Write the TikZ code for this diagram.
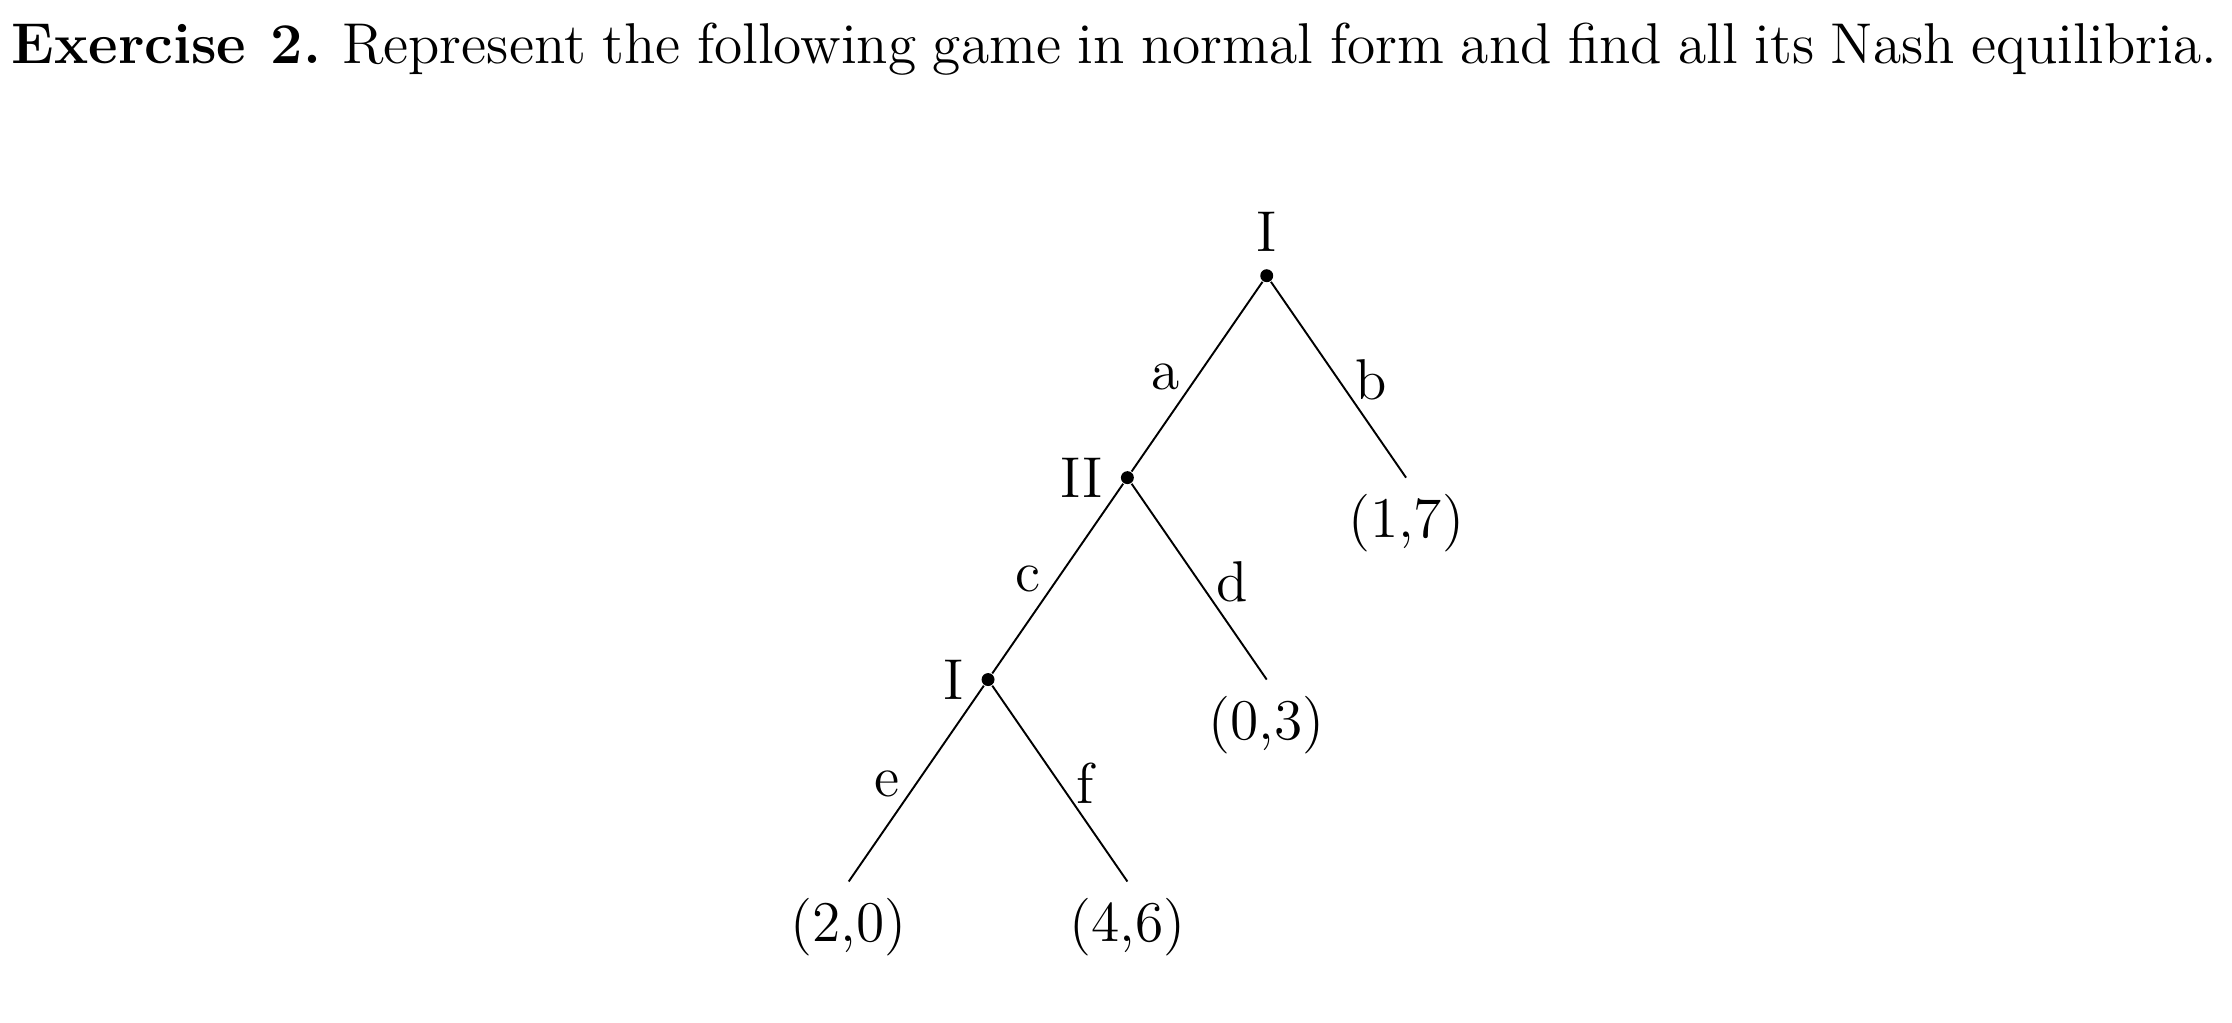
\documentclass[tikz,border=0pt]{standalone}
\usepackage{amsmath}
\usepackage{tikz}
\usetikzlibrary{positioning}

\begin{document}
\begin{tikzpicture}[x=0.2085pt,y=0.2085pt,auto,node distance=42.1pt and 29.05pt,on grid,thin,
                    font=\fontsize{12}{14.5}\selectfont]
    \tikzset{dot/.style={circle,fill,inner sep=0pt,minimum size=2.7pt},
             player/.style={label distance=-1pt}}
    \useasboundingbox (0,0) rectangle (2232,-1022);

    % heading line, set to the full width
    \node[inner sep=0pt,anchor=base west] (title) at (11,-63.3)
        {\frenchspacing\hbox to 459.8pt{\textbf{Exercise 2.} \spaceskip=3.2pt plus 1pt minus 2pt
         Represent the following game in normal form and find all its Nash equilibria.}};

    \node[dot,player,label=above:I] (r) at (1266.7,-275.7) {};
    \node[dot,player,label=left:II] (p2) [below left=of r] {};
    \coordinate[below right=of r,label=below:{(1,7)}] (o17);
    \node[dot,player,label=left:I] (q1) [below left=of p2] {};
    \coordinate[below right=of p2,label=below:{(0,3)}] (o03);
    \coordinate[below left=of q1,label=below:{(2,0)}] (o20);
    \coordinate[below right=of q1,label=below:{(4,6)}] (o46);

    \path (r)  edge node[left]  {a} (p2);
    \path (r)  edge node[right] {b} (o17);
    \path (p2) edge node[left]  {c} (q1);
    \path (p2) edge node[right] {d} (o03);
    \path (q1) edge node[left]  {e} (o20);
    \path (q1) edge node[right] {f} (o46);
\end{tikzpicture}
\end{document}
